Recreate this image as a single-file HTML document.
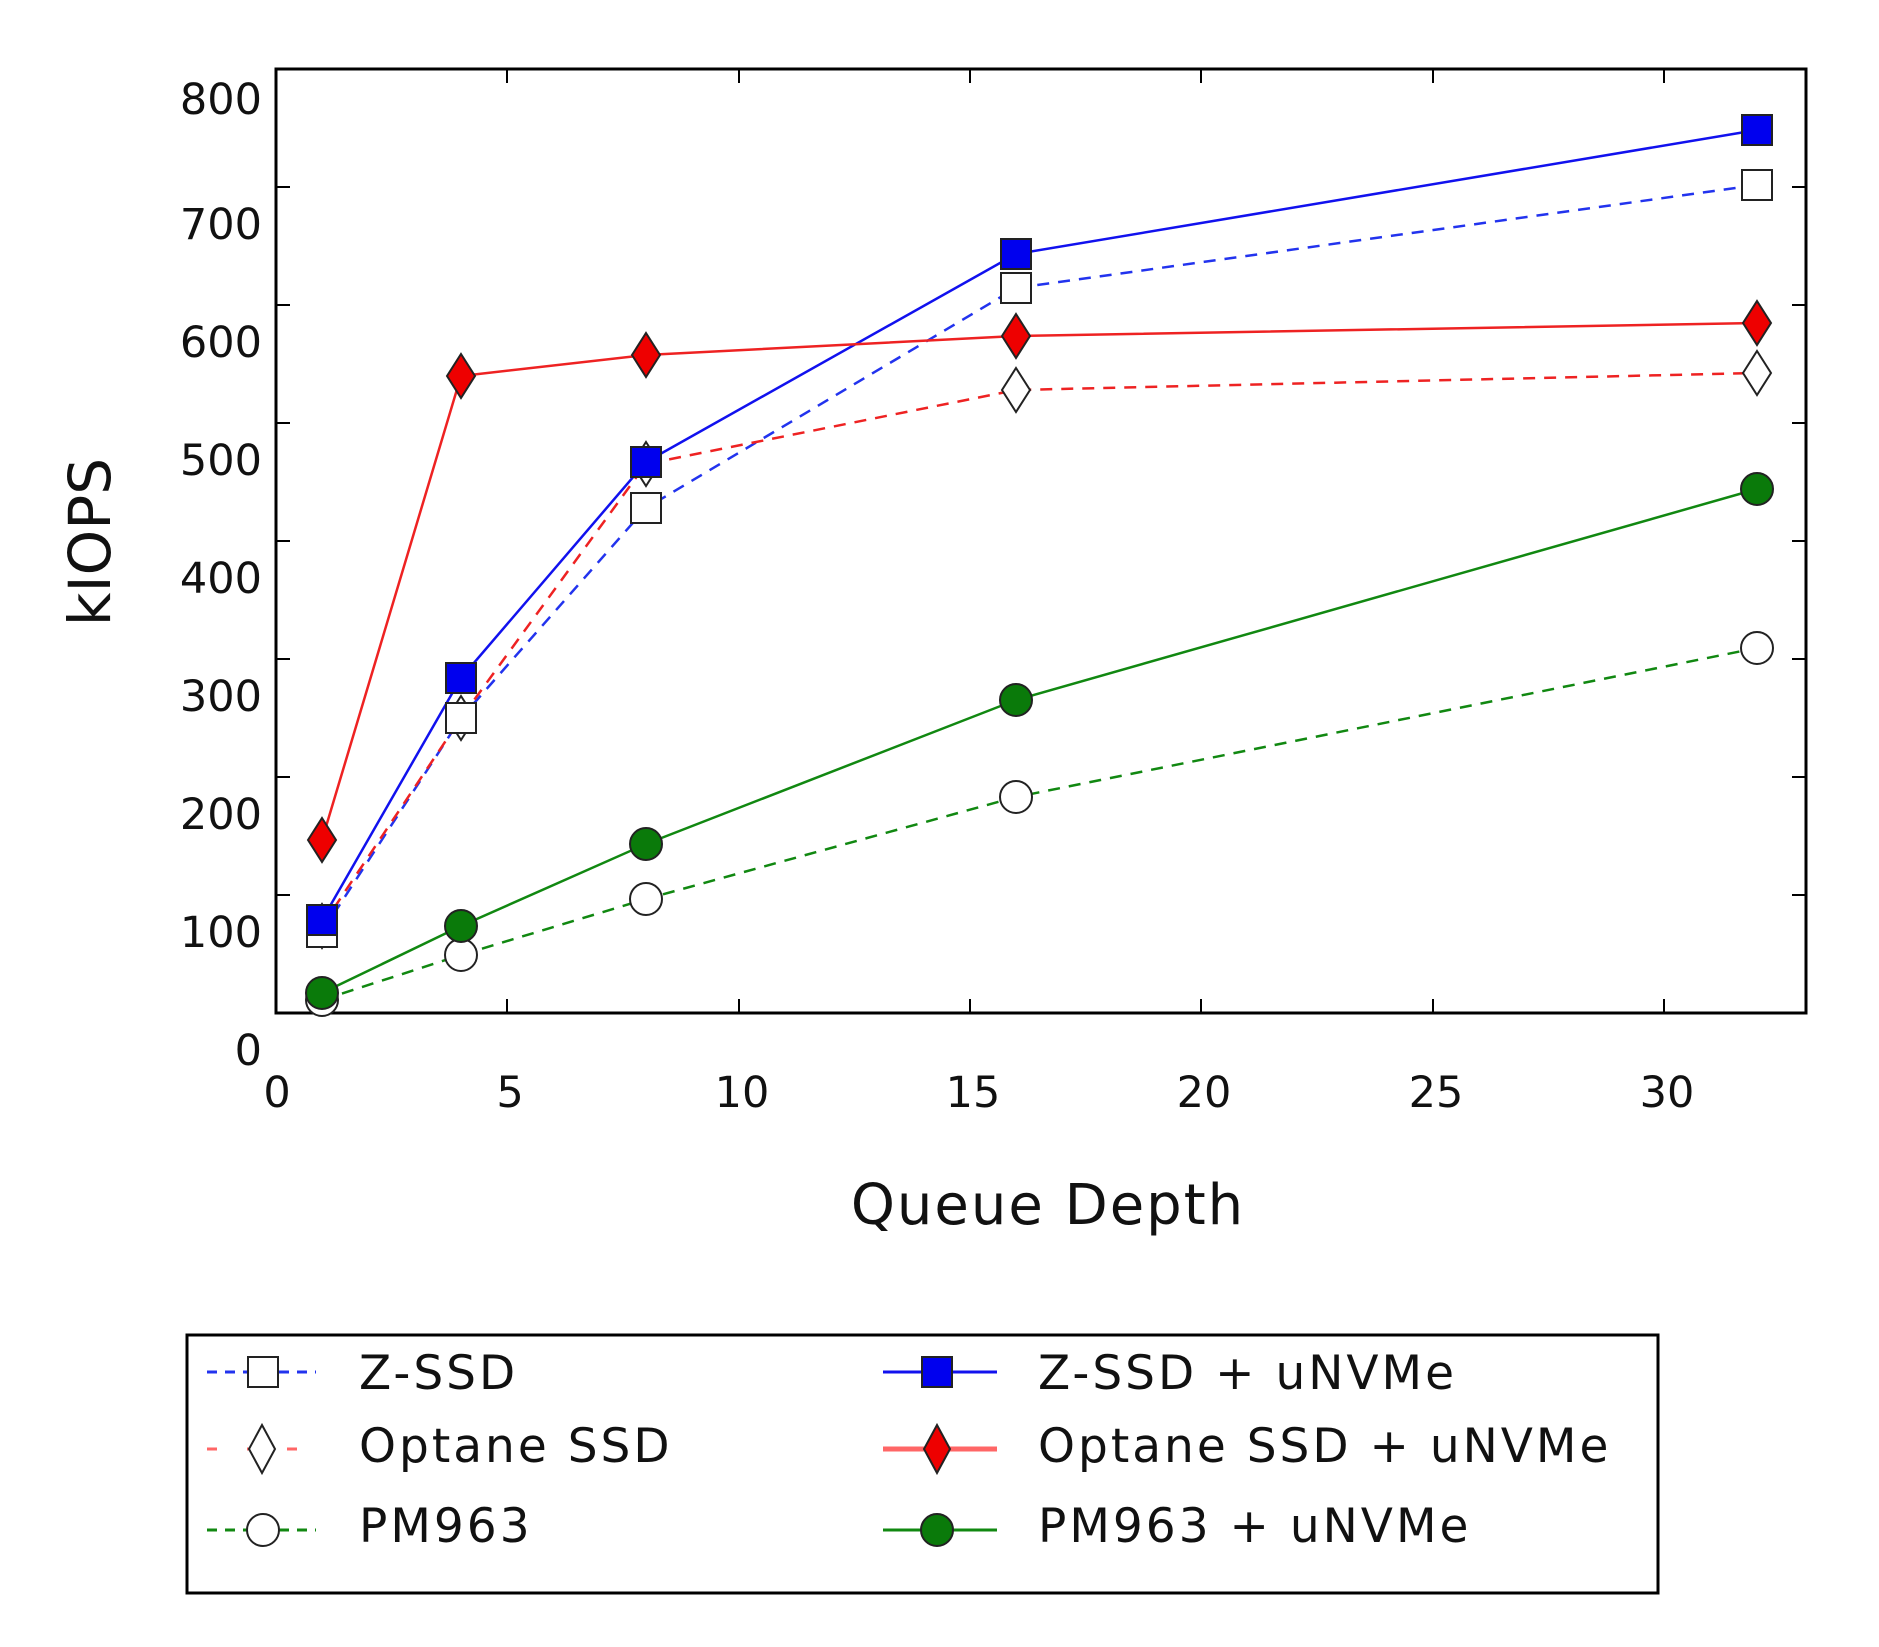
<!DOCTYPE html>
<html><head><meta charset="utf-8"><style>html,body{margin:0;padding:0;background:#fff}svg{display:block}text{font-family:"DejaVu Sans","Liberation Sans",sans-serif;fill:#111}</style></head>
<body>
<svg width="1879" height="1647" viewBox="0 0 1879 1647" xmlns="http://www.w3.org/2000/svg">
<rect width="1879" height="1647" fill="#fff"/>
<g stroke="#000" stroke-width="2">
<line x1="507" y1="1013" x2="507" y2="999"/><line x1="507" y1="69" x2="507" y2="83"/>
<line x1="739" y1="1013" x2="739" y2="999"/><line x1="739" y1="69" x2="739" y2="83"/>
<line x1="970" y1="1013" x2="970" y2="999"/><line x1="970" y1="69" x2="970" y2="83"/>
<line x1="1201" y1="1013" x2="1201" y2="999"/><line x1="1201" y1="69" x2="1201" y2="83"/>
<line x1="1433" y1="1013" x2="1433" y2="999"/><line x1="1433" y1="69" x2="1433" y2="83"/>
<line x1="1664" y1="1013" x2="1664" y2="999"/><line x1="1664" y1="69" x2="1664" y2="83"/>
<line x1="276" y1="895" x2="290" y2="895"/><line x1="1806" y1="895" x2="1792" y2="895"/>
<line x1="276" y1="777" x2="290" y2="777"/><line x1="1806" y1="777" x2="1792" y2="777"/>
<line x1="276" y1="659" x2="290" y2="659"/><line x1="1806" y1="659" x2="1792" y2="659"/>
<line x1="276" y1="541" x2="290" y2="541"/><line x1="1806" y1="541" x2="1792" y2="541"/>
<line x1="276" y1="423" x2="290" y2="423"/><line x1="1806" y1="423" x2="1792" y2="423"/>
<line x1="276" y1="305" x2="290" y2="305"/><line x1="1806" y1="305" x2="1792" y2="305"/>
<line x1="276" y1="187" x2="290" y2="187"/><line x1="1806" y1="187" x2="1792" y2="187"/>
</g>
<rect x="276" y="69" width="1530" height="944" fill="none" stroke="#000" stroke-width="3"/>
<g font-size="43" text-anchor="end">
<text x="262" y="1065">0</text><text x="262" y="947">100</text><text x="262" y="829">200</text><text x="262" y="711">300</text><text x="262" y="593">400</text><text x="262" y="475">500</text><text x="262" y="357">600</text><text x="262" y="239">700</text><text x="262" y="114">800</text>
</g>
<g font-size="43" text-anchor="middle">
<text x="277" y="1107">0</text><text x="510" y="1107">5</text><text x="742" y="1107">10</text><text x="973" y="1107">15</text><text x="1204" y="1107">20</text><text x="1436" y="1107">25</text><text x="1667" y="1107">30</text>
</g>
<text x="1048" y="1224" font-size="56" text-anchor="middle" letter-spacing="2">Queue Depth</text>
<text transform="translate(110,542) rotate(-90)" font-size="58" text-anchor="middle">kIOPS</text>
<g fill="none" stroke-width="2.5">
<polyline stroke="#2233ee" stroke-dasharray="12,9" points="322,932 461,718 646,508 1016,288 1757,185"/>
<polyline stroke="#ee2222" stroke-dasharray="12,9" points="322,926 461,718 646,464 1016,390 1757,373"/>
<polyline stroke="#118811" stroke-dasharray="12,9" points="322,1000 461,955 646,899 1016,797 1757,648"/>
<polyline stroke="#1111ee" points="322,920 461,678 646,462 1016,254 1757,130"/>
<polyline stroke="#ee2222" points="322,840 461,376 646,355 1016,336 1757,323"/>
<polyline stroke="#118811" points="322,993 461,926 646,844 1016,700 1757,489"/>
</g>
<g fill="#fff" stroke="#222" stroke-width="2">
<circle cx="322" cy="1000" r="16"/><circle cx="461" cy="955" r="16"/><circle cx="646" cy="899" r="16"/><circle cx="1016" cy="797" r="16"/><circle cx="1757" cy="648" r="16"/>
<path d="M322,904 l14,22 l-14,22 l-14,-22z"/><path d="M461,696 l14,22 l-14,22 l-14,-22z"/><path d="M646,442 l14,22 l-14,22 l-14,-22z"/><path d="M1016,368 l14,22 l-14,22 l-14,-22z"/><path d="M1757,351 l14,22 l-14,22 l-14,-22z"/>
<rect x="307" y="917" width="30" height="30"/><rect x="446" y="703" width="30" height="30"/><rect x="631" y="493" width="30" height="30"/><rect x="1001" y="273" width="30" height="30"/><rect x="1742" y="170" width="30" height="30"/>
</g>
<g stroke="#222" stroke-width="2">
<g fill="#0a7a0a"><circle cx="322" cy="993" r="16"/><circle cx="461" cy="926" r="16"/><circle cx="646" cy="844" r="16"/><circle cx="1016" cy="700" r="16"/><circle cx="1757" cy="489" r="16"/></g>
<g fill="#ee0000"><path d="M322,818 l14,22 l-14,22 l-14,-22z"/><path d="M461,354 l14,22 l-14,22 l-14,-22z"/><path d="M646,333 l14,22 l-14,22 l-14,-22z"/><path d="M1016,314 l14,22 l-14,22 l-14,-22z"/><path d="M1757,301 l14,22 l-14,22 l-14,-22z"/></g>
<g fill="#0000ee"><rect x="307" y="905" width="30" height="30"/><rect x="446" y="663" width="30" height="30"/><rect x="631" y="447" width="30" height="30"/><rect x="1001" y="239" width="30" height="30"/><rect x="1742" y="115" width="30" height="30"/></g>
</g>
<rect x="187" y="1335" width="1471" height="258" fill="#fff" stroke="#000" stroke-width="3"/>
<g stroke-width="3" fill="none">
<line x1="207" y1="1372" x2="316" y2="1372" stroke="#2233ee" stroke-dasharray="10,8"/>
<line x1="207" y1="1449" x2="316" y2="1449" stroke="#ff6666" stroke-dasharray="10,30"/>
<line x1="207" y1="1530" x2="316" y2="1530" stroke="#118811" stroke-dasharray="10,8"/>
<line x1="883" y1="1372" x2="997" y2="1372" stroke="#1111ee"/>
<line x1="883" y1="1449" x2="997" y2="1449" stroke="#ff6666" stroke-width="5"/>
<line x1="883" y1="1530" x2="997" y2="1530" stroke="#118811"/>
</g>
<g stroke="#222" stroke-width="2">
<rect x="248" y="1357" width="30" height="30" fill="#fff"/>
<path d="M262,1425 l13,24 l-13,24 l-13,-24z" fill="#fff"/>
<circle cx="263" cy="1530" r="16" fill="#fff"/>
<rect x="922" y="1357" width="30" height="30" fill="#0000ee"/>
<path d="M937,1425 l13,24 l-13,24 l-13,-24z" fill="#ee0000"/>
<circle cx="937" cy="1530" r="16" fill="#0a7a0a"/>
</g>
<g font-size="47" letter-spacing="3">
<text x="359" y="1389">Z-SSD</text><text x="359" y="1462">Optane SSD</text><text x="359" y="1542">PM963</text>
<text x="1038" y="1389">Z-SSD + uNVMe</text><text x="1038" y="1462">Optane SSD + uNVMe</text><text x="1038" y="1542">PM963 + uNVMe</text>
</g>
</svg>
</body></html>
